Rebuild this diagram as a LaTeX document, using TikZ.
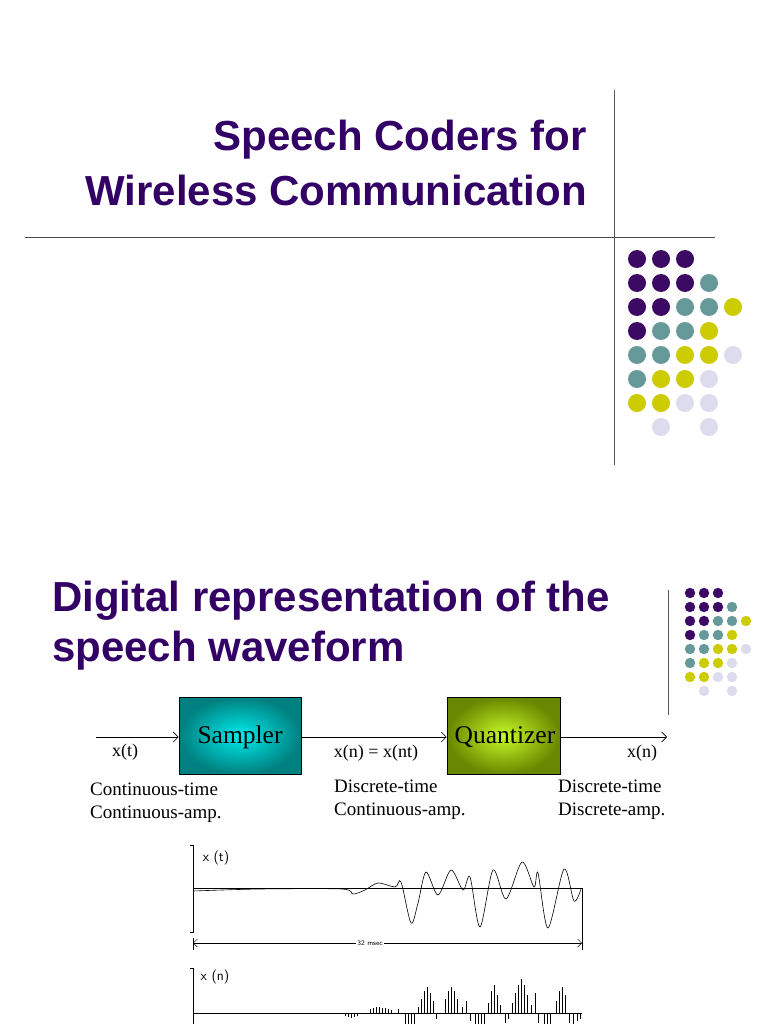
\documentclass[tikz,border=0pt]{standalone}
\usepackage{fontspec}
\usetikzlibrary{arrows.meta}
\setmainfont{Liberation Serif}
\newfontfamily\titlefont{Liberation Sans}
\definecolor{tpurple}{RGB}{51,0,102}
\definecolor{dP}{RGB}{60,10,100}
\definecolor{dT}{RGB}{102,153,153}
\definecolor{dY}{RGB}{204,204,0}
\definecolor{dL}{RGB}{220,220,238}
\begin{document}
\begin{tikzpicture}[x=1pt,y=-1pt,
  title/.style={font=\titlefont\bfseries\fontsize{42}{48}\selectfont,text=tpurple,inner sep=0},
  lbl/.style={font=\fontsize{18}{22}\selectfont,inner sep=0},
  desc/.style={font=\fontsize{19}{23}\selectfont,inner sep=0,align=left,anchor=north west},
  blk/.style={draw=black,line width=0.8pt,minimum width=122pt,minimum height=77pt},
  blktext/.style={font=\fontsize{25.5}{28}\selectfont,inner sep=0},
  flow/.style={-{Straight Barb[length=5pt]},line width=0.6pt},
  wave/.style={line width=0.6pt}]
\useasboundingbox (0,0) rectangle (768,1024);
\fill[white] (0,0) rectangle (768,1024);
% slide 1
\draw[gray!70!black,line width=1pt] (614,90) -- (614,465);
\draw[gray!60!black,line width=1pt] (25,237) -- (715,237);
\node[title,anchor=east] (t1) at (587,140) {Speech Coders for};
\node[title,anchor=east] (t2) at (587,190) {Wireless Communication};
\foreach \row/\a/\b/\c/\d/\e in {0/P/P/P/N/N,1/P/P/P/T/N,2/P/P/T/T/Y,3/P/T/T/Y/N,4/T/T/Y/Y/L,5/T/Y/Y/L/N,6/Y/Y/L/L/N,7/N/L/N/L/N}{
  \foreach \col/\k in {0/\a,1/\b,2/\c,3/\d,4/\e}{
    \if N\k\else
      \fill[d\k] (637+24*\col,259+24*\row) circle (9);
      \fill[d\k] (690+14*\col,593+14*\row) circle (5.2);
    \fi
  }
}
% slide 2
\draw[gray!70!black,line width=1pt] (668,590) -- (668,715);
\node[title,anchor=west] (t3) at (52,601) {Digital representation of the};
\node[title,anchor=west] (t4) at (52,651) {speech waveform};
\node[blk,inner color={rgb,255:red,0;green,235;blue,235},outer color={rgb,255:red,0;green,128;blue,128}] (s) at (240,735.5) {};
\node[blktext] (sl) at (240,737) {Sampler};
\node[blk,minimum width=113pt,inner color={rgb,255:red,200;green,250;blue,40},outer color={rgb,255:red,105;green,135;blue,0}] (q) at (503.5,735.5) {};
\node[blktext] (ql) at (505,737) {Quantizer};
\coordinate (in) at (96,737);
\coordinate (out) at (667,737);
\draw[flow] (in) -- (s.west|-in);
\draw[flow] (s.east|-in) -- (q.west|-in);
\draw[flow] (q.east|-in) -- (out);
\node[lbl] (xt) at (125,752) {x(t)};
\node[lbl] (xn1) at (376,753) {x(n) = x(nt)};
\node[lbl] (xn2) at (642,753) {x(n)};
\node[desc] (d1) at (90,783) {Continuous-time\\Continuous-amp.};
\node[desc] (d2) at (334,780) {Discrete-time\\Continuous-amp.};
\node[desc] (d3) at (558,780) {Discrete-time\\Discrete-amp.};
% waveform x(t)
\draw[line width=0.6pt] (190,845) -- (193,845) -- (193,932) -- (190,932);
\node[font=\fontsize{14}{16}\selectfont\sffamily,inner sep=0] (xtl) at (216,858) {x (t)};
\draw[wave] (193,888) -- (582,888);
\draw[wave] (582,888) -- (582,950);
\draw[line width=0.5pt] (193,938) -- (193,950);
\node[font=\fontsize{7}{8}\selectfont\sffamily,inner sep=1pt,fill=white] (ms) at (370,943) {32 msec};
\draw[line width=0.5pt,-{Straight Barb[length=4pt]}] (ms.west) -- (193,943);
\draw[line width=0.5pt,-{Straight Barb[length=4pt]}] (ms.east) -- (582,943);
\draw[wave] plot[smooth,tension=0.5] coordinates {(193,891) (260,889) (342,889) (353,894) (365,890) (378,883) (395,887) (401,882) (411,923) (418,903) (426,872) (438,895) (451,870) (463,890) (470,877) (480,927) (493,870) (506,899) (522,862) (534,887) (538,873) (548,928) (564,869) (574,901) (581,889)};
% x(n)
\draw[line width=0.6pt] (190,968) -- (193,968) -- (193,1024);
\node[font=\fontsize{14}{16}\selectfont\sffamily,inner sep=0] (xnl) at (215,977) {x (n)};
\draw[wave] (193,1013) -- (582,1013);
\foreach \x/\h in {345/-3,348/-4,351/-5,354/-4,357/-3,370/4,373/5,376/6,379/6,382/5,385/5,388/4,391/3,398/4,
 405/-14,408/-16,411/-18,414/-12,
 418/6,421/14,424/22,427/26,430/20,433/12,436/-6,
 445/14,448/22,451/26,454/22,457/14,462/6,466/12,470/-8,
 475/-16,478/-20,481/-18,484/-12,488/10,491/22,494/28,497/18,500/8,
 505/-10,508/-6,512/10,515/20,518/28,521/34,524/28,527/18,531/8,535/20,538/-10,
 544/-16,547/-20,550/-16,556/12,559/22,562/26,565/18,569/-10,573/-16,577/-8,580/-6}{
  \draw[line width=0.5pt] (\x,1013) -- (\x,1013-\h);
}
\end{tikzpicture}
\end{document}
